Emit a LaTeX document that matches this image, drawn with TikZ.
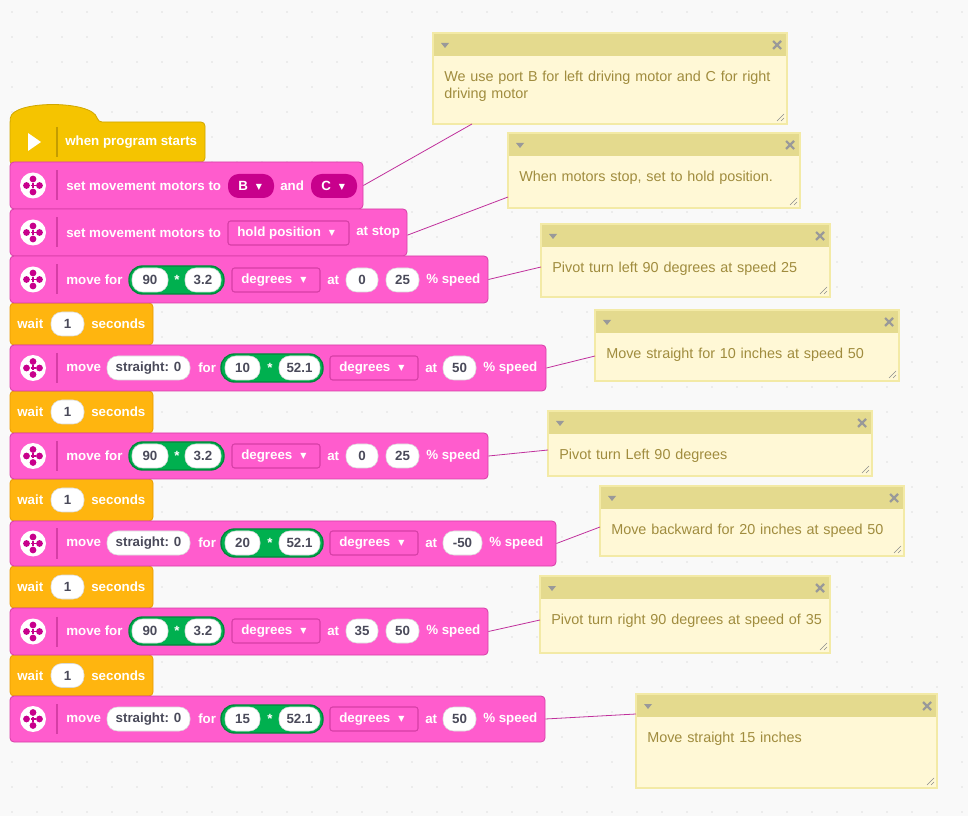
\documentclass[tikz,border=0pt]{standalone}
\usepackage{fontspec}
\setmainfont{Liberation Sans}
\newfontfamily\djfont{DejaVu Sans}
\usetikzlibrary{fit}
\definecolor{bgc}{HTML}{F9F9F9}
\definecolor{pinkb}{HTML}{FF5CCD}
\definecolor{pinkd}{HTML}{D63EA6}
\definecolor{magd}{HTML}{C8008C}
\definecolor{hatc}{HTML}{F5C400}
\definecolor{waitc}{HTML}{FFB50F}
\definecolor{waitd}{HTML}{E89B00}
\definecolor{grn}{HTML}{00B04F}
\definecolor{grnd}{HTML}{00873A}
\definecolor{cmh}{HTML}{E4DA8E}
\definecolor{cmb}{HTML}{FFF8D6}
\definecolor{cmbd}{HTML}{F3EAA6}
\definecolor{cmt}{HTML}{A08C3E}
\definecolor{pillt}{HTML}{4A4A5A}
\definecolor{linec}{HTML}{C0309C}
\tikzset{
  fnt/.style={font=\bfseries\fontsize{10}{11}\selectfont},
  bt/.style={fnt,text=white,anchor=west,inner sep=0pt},
  pt/.style={fnt,text=pillt,inner sep=0pt},
  mblk/.style={fill=pinkb,draw=pinkd,rounded corners=3pt,inner sep=0pt,line width=0.6pt},
  wblk/.style={fill=waitc,draw=waitd,rounded corners=3pt,inner sep=0pt,line width=0.6pt},
  wpill/.style={fill=white,draw=black!15,rounded corners=8pt,inner sep=0pt},
  dpill/.style={fill=magd,rounded corners=8pt,inner sep=0pt},
  gcap/.style={fill=grn,draw=grnd,line width=1pt,rounded corners=10pt,inner sep=0pt},
  ddb/.style={fill=pinkb,draw=pinkd,line width=0.8pt,rounded corners=2pt,inner sep=0pt},
  cbody/.style={fill=cmb,draw=cmbd,line width=0.8pt,inner sep=0pt},
  chead/.style={fill=cmh,inner sep=0pt},
  ctext/.style={font=\fontsize{10.8}{12.75}\selectfont,text=cmt,anchor=north west,inner sep=0pt,align=left},
  conn/.style={draw=linec,line width=0.6pt},
}
\newcommand\tri{\smash{\raisebox{0.2ex}{\djfont\fontsize{6}{6}\selectfont ▼}}}
% motor block: name, ytop, ybot, xend
\newcommand\mrow[4]{%
  \node[mblk,fit={(10,#2)(#4,#3)}] (#1) {};
  \fill[white] (33,{(#2+#3)/2}) circle (13);
  \foreach \dx/\dy in {0/-6.5,0/6.5,-6.5/0,6.5/0}{\fill[magd] ({33+\dx},{(#2+#3)/2+\dy}) circle (3.4);}
  \draw[magd,line width=0.8pt] (30.5,{(#2+#3)/2})--(35.5,{(#2+#3)/2}) (33,{(#2+#3)/2-2.5})--(33,{(#2+#3)/2+2.5});
  \draw[pinkd,line width=0.8pt] (57,{(#2+#3)/2-15})--(57,{(#2+#3)/2+15});
}
\newcommand\wrow[4]{%
  \node[wblk,fit={(10,#2)(153,#3)}] (#1) {};
  \node[bt] at (17,{(#2+#3)/2}) {wait};
  \node[wpill,fit={(51,{(#2+#3)/2-12})(84,{(#2+#3)/2+12})}] (#1p) {};
  \node[pt] at (#1p) {#4};
  \node[bt] at (91,{(#2+#3)/2}) {seconds};
}
\newcommand\wpl[5]{\node[wpill,fit={(#2,#4-12)(#3,#4+12)}] (#1) {}; \node[pt] at (#1) {#5};}
\newcommand\ddn[5]{\node[ddb,fit={(#2,#4-12)(#3,#4+12)}] (#1) {}; \node[bt] at (#2+9,#4) {#5\hspace{6pt}\tri};}
\newcommand\mvfor[4]{% name yc a b
  \node[bt] at (66,#2) {move for};
  \node[gcap,fit={(129,#2-14)(224,#2+14)}] (#1g) {};
  \wpl{#1ga}{132}{168}{#2}{90}
  \node[bt] at (174,#2) {*};
  \wpl{#1gb}{185}{221}{#2}{3.2}
  \ddn{#1d}{232}{320}{#2}{degrees}
  \node[bt] at (327,#2) {at};
  \wpl{#1s}{346}{378}{#2}{#3}
  \wpl{#1t}{386}{419}{#2}{#4}
  \node[bt] at (426,#2) {\% speed};
}
\newcommand\mvst[6]{% name yc n speed xspeedend xtext
  \node[bt] at (66,#2) {move};
  \wpl{#1p}{107}{190}{#2}{straight: 0}
  \node[bt] at (198,#2) {for};
  \node[gcap,fit={(221,#2-14)(323,#2+14)}] (#1g) {};
  \wpl{#1ga}{225}{260}{#2}{#3}
  \node[bt] at (267,#2) {*};
  \wpl{#1gb}{279}{320}{#2}{52.1}
  \ddn{#1d}{330}{418}{#2}{degrees}
  \node[bt] at (425,#2) {at};
  \wpl{#1s}{443}{#5}{#2}{#4}
  \node[bt] at (#6,#2) {\% speed};
}
\newcommand\cmnt[6]{% name x1 y1 x2 y2 text
  \node[cbody,fit={(#2,#3)(#4,#5)}] (#1) {};
  \node[chead,fit={(#2+1,#3+1)(#4-1,#3+23)}] (#1h) {};
  \fill[black!40] (#2+8,#3+10)--(#2+16,#3+10)--(#2+12,#3+15)--cycle;
  \draw[black!40,line width=1.6pt] (#4-14,#3+8)--(#4-6,#3+16) (#4-14,#3+16)--(#4-6,#3+8);
  \draw[black!45,line width=0.5pt] (#4-10,#5-3)--(#4-3,#5-10) (#4-6,#5-3)--(#4-3,#5-6);
  \node[ctext,text width={(#4-#2-16)*0.75pt}] at (#2+11,#3+38) {#6};
}
\begin{document}
\begin{tikzpicture}[x=0.75pt,y=-0.75pt]
\useasboundingbox (0,0) rectangle (968,816);
\fill[bgc] (0,0) rectangle (968,816);
\foreach \i in {0,...,38}{\foreach \j in {0,...,32}{\fill[black!12] (\i*25+12,\j*25+12) circle (0.9);}}
% comments
\cmnt{c1}{433}{33}{787}{124}{We use port B for left driving motor and C for right\\driving motor}
\cmnt{c2}{508}{133}{800}{208}{When motors stop, set to hold position.}
\cmnt{c3}{541}{224}{830}{297}{Pivot turn left 90 degrees at speed 25}
\cmnt{c4}{595}{310}{899}{381}{Move straight for 10 inches at speed 50}
\cmnt{c5}{548}{411}{872}{476}{Pivot turn Left 90 degrees}
\cmnt{c6}{600}{486}{904}{556}{Move backward for 20 inches at speed 50}
\cmnt{c7}{540}{576}{830}{653}{Pivot turn right 90 degrees at speed of 35}
\cmnt{c8}{636}{694}{937}{788}{Move straight 15 inches}
% hat
\fill[hatc,draw=hatc!85!black,line width=0.6pt,rounded corners=3pt] (10,165)--(10,122) .. controls (12,100) and (93,100) .. (98,122) -- (205,122) -- (205,162)--cycle;
\node[bt] (hat) at (65,142) {when program starts};
\fill[white] (28,133)--(41,142)--(28,151)--cycle;
\draw[hatc!80!black,line width=0.8pt] (57,127)--(57,157);
% rows
\wrow{w1}{303}{345}{1}
\wrow{w2}{391}{433}{1}
\wrow{w3}{479}{521}{1}
\wrow{w4}{566}{608}{1}
\wrow{w5}{655}{696}{1}
\mrow{r1}{162}{209}{363}
\node[bt] at (66,186) {set movement motors to};
\node[dpill,fit={(228,174)(274,198)}] (pb) {}; \node[bt] at (238,186) {B\hspace{6pt}\tri};
\node[bt] at (280,186) {and};
\node[dpill,fit={(311,174)(357,198)}] (pc) {}; \node[bt] at (321,186) {C\hspace{6pt}\tri};
\mrow{r2}{209}{256}{407}
\node[bt] at (66,233) {set movement motors to};
\ddn{hp}{228}{349}{233}{hold position}
\node[bt] at (356,233) {at stop};
\mrow{r3}{256}{303}{488}
\mvfor{m3}{280}{0}{25}
\mrow{r4}{345}{391}{546}
\mvst{m4}{368}{10}{50}{476}{483}
\mrow{r5}{433}{479}{488}
\mvfor{m5}{456}{0}{25}
\mrow{r6}{521}{566}{556}
\mvst{m6}{543}{20}{-50}{482}{489}
\mrow{r7}{608}{655}{488}
\mvfor{m7}{631}{35}{50}
\mrow{r8}{696}{742}{545}
\mvst{m8}{719}{15}{50}{476}{483}
% connectors
\coordinate (k1) at (472,124);
\coordinate (k2) at (508,197);
\coordinate (k3) at (541,267);
\coordinate (k4) at (595,356);
\coordinate (k5) at (548,450);
\coordinate (k6) at (600,527);
\coordinate (k7) at (540,620);
\coordinate (k8) at (636,714);
\draw[conn] (r1.east) -- (k1);
\draw[conn] ([yshift=-2pt]r2.east) -- (k2);
\draw[conn] (r3.east) -- (k3);
\draw[conn] (r4.east) -- (k4);
\draw[conn] (r5.east) -- (k5);
\draw[conn] (r6.east) -- (k6);
\draw[conn] (r7.east) -- (k7);
\draw[conn] (r8.east) -- (k8);
\end{tikzpicture}
\end{document}
